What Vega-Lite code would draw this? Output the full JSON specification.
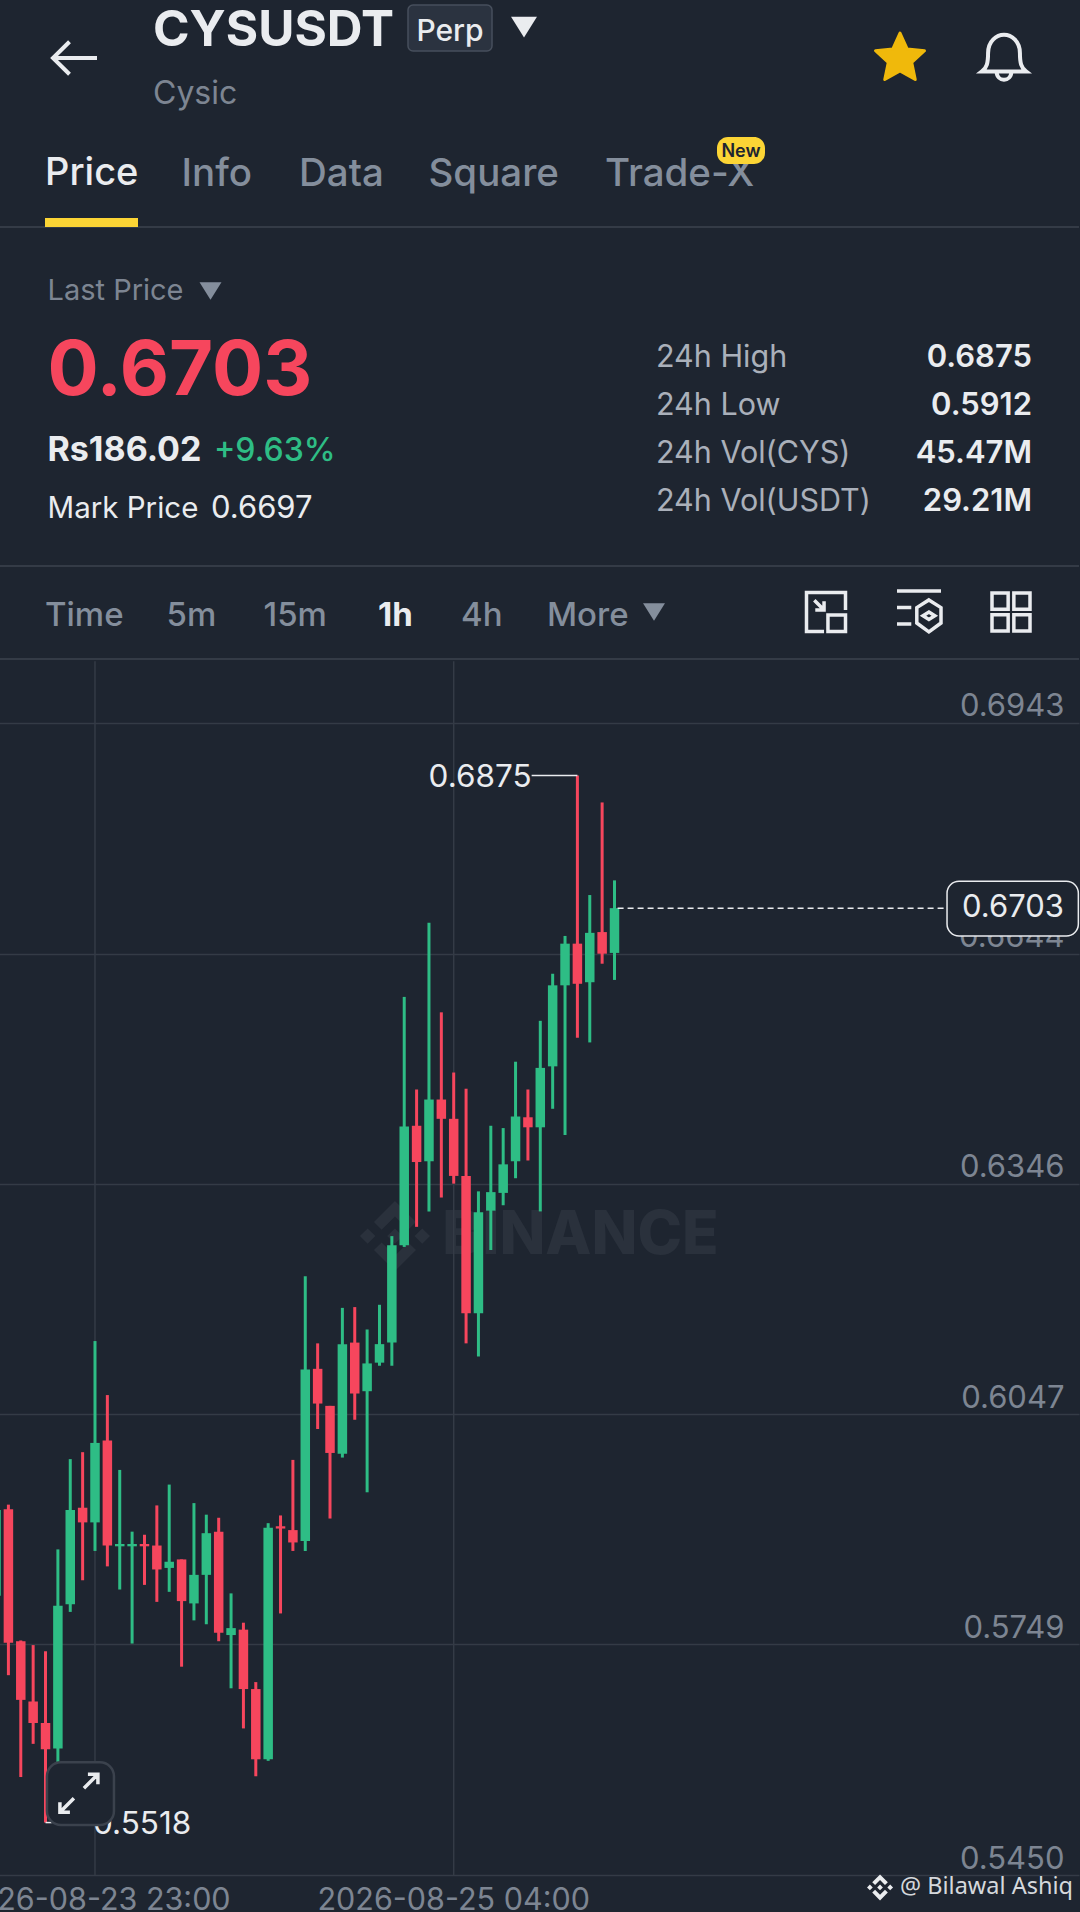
{
  "$schema": "https://vega.github.io/schema/vega-lite/v6.json",
  "description": "CYSUSDT perp 1h candles, mobile app screen",
  "background": "#1e2530",
  "padding": {"left": -2, "top": 0, "right": 0, "bottom": 0},
  "spacing": 0,
  "config": {"font": "Inter", "view": {"stroke": null}},
  "datasets": {
    "candles": [
      {"time":"2026-08-23T15:00:00Z","open":0.5812,"high":0.5930,"low":0.5800,"close":0.5923},
      {"time":"2026-08-23T16:00:00Z","open":0.5924,"high":0.5930,"low":0.5709,"close":0.5751},
      {"time":"2026-08-23T17:00:00Z","open":0.5753,"high":0.5754,"low":0.5577,"close":0.5677},
      {"time":"2026-08-23T18:00:00Z","open":0.5675,"high":0.5748,"low":0.5620,"close":0.5647},
      {"time":"2026-08-23T19:00:00Z","open":0.5647,"high":0.5740,"low":0.5518,"close":0.5613},
      {"time":"2026-08-23T20:00:00Z","open":0.5614,"high":0.5872,"low":0.5588,"close":0.5799},
      {"time":"2026-08-23T21:00:00Z","open":0.5801,"high":0.5989,"low":0.5791,"close":0.5923},
      {"time":"2026-08-23T22:00:00Z","open":0.5926,"high":0.5998,"low":0.5832,"close":0.5907},
      {"time":"2026-08-23T23:00:00Z","open":0.5907,"high":0.6142,"low":0.5870,"close":0.6010},
      {"time":"2026-08-24T00:00:00Z","open":0.6013,"high":0.6072,"low":0.5850,"close":0.5877},
      {"time":"2026-08-24T01:00:00Z","open":0.5876,"high":0.5975,"low":0.5820,"close":0.5879},
      {"time":"2026-08-24T02:00:00Z","open":0.5876,"high":0.5895,"low":0.5750,"close":0.5879},
      {"time":"2026-08-24T03:00:00Z","open":0.5879,"high":0.5891,"low":0.5826,"close":0.5876},
      {"time":"2026-08-24T04:00:00Z","open":0.5877,"high":0.5929,"low":0.5804,"close":0.5846},
      {"time":"2026-08-24T05:00:00Z","open":0.5848,"high":0.5956,"low":0.5817,"close":0.5856},
      {"time":"2026-08-24T06:00:00Z","open":0.5859,"high":0.5859,"low":0.5720,"close":0.5805},
      {"time":"2026-08-24T07:00:00Z","open":0.5802,"high":0.5932,"low":0.5780,"close":0.5839},
      {"time":"2026-08-24T08:00:00Z","open":0.5839,"high":0.5917,"low":0.5775,"close":0.5893},
      {"time":"2026-08-24T09:00:00Z","open":0.5895,"high":0.5913,"low":0.5753,"close":0.5764},
      {"time":"2026-08-24T10:00:00Z","open":0.5761,"high":0.5815,"low":0.5692,"close":0.5770},
      {"time":"2026-08-24T11:00:00Z","open":0.5768,"high":0.5777,"low":0.5640,"close":0.5691},
      {"time":"2026-08-24T12:00:00Z","open":0.5691,"high":0.5700,"low":0.5578,"close":0.5600},
      {"time":"2026-08-24T13:00:00Z","open":0.5600,"high":0.5906,"low":0.5598,"close":0.5900},
      {"time":"2026-08-24T14:00:00Z","open":0.5902,"high":0.5916,"low":0.5789,"close":0.5899},
      {"time":"2026-08-24T15:00:00Z","open":0.5897,"high":0.5988,"low":0.5870,"close":0.5881},
      {"time":"2026-08-24T16:00:00Z","open":0.5883,"high":0.6226,"low":0.5870,"close":0.6105},
      {"time":"2026-08-24T17:00:00Z","open":0.6106,"high":0.6139,"low":0.6028,"close":0.6061},
      {"time":"2026-08-24T18:00:00Z","open":0.6058,"high":0.6058,"low":0.5912,"close":0.5997},
      {"time":"2026-08-24T19:00:00Z","open":0.5996,"high":0.6185,"low":0.5991,"close":0.6138},
      {"time":"2026-08-24T20:00:00Z","open":0.6140,"high":0.6186,"low":0.6040,"close":0.6074},
      {"time":"2026-08-24T21:00:00Z","open":0.6077,"high":0.6157,"low":0.5946,"close":0.6113},
      {"time":"2026-08-24T22:00:00Z","open":0.6114,"high":0.6189,"low":0.6110,"close":0.6138},
      {"time":"2026-08-24T23:00:00Z","open":0.6140,"high":0.6278,"low":0.6110,"close":0.6266},
      {"time":"2026-08-25T00:00:00Z","open":0.6266,"high":0.6588,"low":0.6264,"close":0.6420},
      {"time":"2026-08-25T01:00:00Z","open":0.6421,"high":0.6468,"low":0.6290,"close":0.6374},
      {"time":"2026-08-25T02:00:00Z","open":0.6375,"high":0.6684,"low":0.6310,"close":0.6455},
      {"time":"2026-08-25T03:00:00Z","open":0.6455,"high":0.6568,"low":0.6328,"close":0.6430},
      {"time":"2026-08-25T04:00:00Z","open":0.6430,"high":0.6490,"low":0.6346,"close":0.6356},
      {"time":"2026-08-25T05:00:00Z","open":0.6356,"high":0.6469,"low":0.6139,"close":0.6178},
      {"time":"2026-08-25T06:00:00Z","open":0.6178,"high":0.6336,"low":0.6122,"close":0.6309},
      {"time":"2026-08-25T07:00:00Z","open":0.6311,"high":0.6421,"low":0.6260,"close":0.6335},
      {"time":"2026-08-25T08:00:00Z","open":0.6334,"high":0.6418,"low":0.6318,"close":0.6371},
      {"time":"2026-08-25T09:00:00Z","open":0.6375,"high":0.6504,"low":0.6353,"close":0.6433},
      {"time":"2026-08-25T10:00:00Z","open":0.6432,"high":0.6468,"low":0.6376,"close":0.6419},
      {"time":"2026-08-25T11:00:00Z","open":0.6419,"high":0.6557,"low":0.6310,"close":0.6496},
      {"time":"2026-08-25T12:00:00Z","open":0.6498,"high":0.6618,"low":0.6443,"close":0.6603},
      {"time":"2026-08-25T13:00:00Z","open":0.6603,"high":0.6667,"low":0.6409,"close":0.6657},
      {"time":"2026-08-25T14:00:00Z","open":0.6657,"high":0.6875,"low":0.6535,"close":0.6605},
      {"time":"2026-08-25T15:00:00Z","open":0.6607,"high":0.6720,"low":0.6529,"close":0.6671},
      {"time":"2026-08-25T16:00:00Z","open":0.6672,"high":0.6840,"low":0.6631,"close":0.6644},
      {"time":"2026-08-25T17:00:00Z","open":0.6645,"high":0.6739,"low":0.6610,"close":0.6703}
    ]
  },
  "vconcat": [
    {
      "width": 1080,
      "height": 660,
      "encoding": {
        "x": {"field": "col", "type": "quantitative", "axis": null, "scale": {"zero": false, "nice": false,
          "domain": [0,1,2,3,4,5,6,7,8,9,10,11,12,13,14,15,16,17,18,19,20,21,22,23,24,25,26,27,28,29,30,31,32,33],
          "range": [0,46,48.5,76,139,154,167.5,182.5,211.5,212,215,264.5,300,379,409,429.5,451,462,493,525,548,606,655,657,718,742,766,827,901,920,1005,1012,1033,1080]}},
        "y": {"field": "row", "type": "quantitative", "axis": null, "scale": {"zero": false, "nice": false,
          "domain": [0,1,2,3,4,5,6,7,8,9,10,11,12,13,14,15,16,17,18,19,20,21,22,23,24],
          "range": [0,5,31,32,51,58,94,137,152,164,174,218,227,291,358,372,406,451,454,502,509,566,612,616,659]}}
      },
      "layer": [
        {
          "data": {"values": [{"col":0,"col2":33,"row":12},{"col":0,"col2":33,"row":21},{"col":0,"col2":33,"row":24}]},
          "mark": {"type": "rule", "color": "#343b46", "strokeWidth": 2},
          "encoding": {"x2": {"field": "col2"}}
        },
        {
          "data": {"values": [{"col":1,"col2":4,"row":11,"row2":12}]},
          "mark": {"type": "rect", "color": "#fcd535"},
          "encoding": {"x2": {"field": "col2"}, "y2": {"field": "row2"}}
        },
        {
          "data": {"values": [{"col":14,"col2":18,"row":1,"row2":4}]},
          "mark": {"type": "rect", "fill": "#2b3340", "stroke": "#474f5c", "strokeWidth": 1.5, "cornerRadius": 5},
          "encoding": {"x2": {"field": "col2"}, "y2": {"field": "row2"}}
        },
        {
          "data": {"values": [{"label":"CYSUSDT","col":5,"row":2}]},
          "mark": {"type": "text", "align": "left", "baseline": "middle", "fontSize": 49.5, "fontWeight": 700, "color": "#eaecef"},
          "encoding": {"text": {"field": "label"}}
        },
        {
          "data": {"values": [{"label":"Perp","col":16,"row":3}]},
          "mark": {"type": "text", "align": "center", "baseline": "middle", "fontSize": 30, "fontWeight": 500, "color": "#eaecef"},
          "encoding": {"text": {"field": "label"}}
        },
        {
          "data": {"values": [{"label":"Cysic","col":5,"row":6}]},
          "mark": {"type": "text", "align": "left", "baseline": "middle", "fontSize": 32, "color": "#7d8592"},
          "encoding": {"text": {"field": "label"}}
        },
        {
          "data": {"values": [{"label":"Last Price","col":2,"row":13}]},
          "mark": {"type": "text", "align": "left", "baseline": "middle", "fontSize": 29, "color": "#7d8592"},
          "encoding": {"text": {"field": "label"}}
        },
        {
          "data": {"values": [{"label":"Price","col":1,"row":10}]},
          "mark": {"type": "text", "align": "left", "baseline": "middle", "fontSize": 38, "fontWeight": 500, "color": "#eaecef"},
          "encoding": {"text": {"field": "label"}}
        },
        {
          "data": {"values": [{"label":"Info","col":7,"row":10},{"label":"Data","col":12,"row":10},{"label":"Square","col":15,"row":10},{"label":"Trade-X","col":21,"row":10}]},
          "mark": {"type": "text", "align": "left", "baseline": "middle", "fontSize": 38.5, "fontWeight": 500, "color": "#848e9c"},
          "encoding": {"text": {"field": "label"}}
        },
        {
          "data": {"values": [{"col":24,"col2":26,"row":7,"row2":9}]},
          "mark": {"type": "rect", "color": "#fcd535", "cornerRadius": 11},
          "encoding": {"x2": {"field": "col2"}, "y2": {"field": "row2"}}
        },
        {
          "data": {"values": [{"label":"New","col":25,"row":8}]},
          "mark": {"type": "text", "align": "center", "baseline": "middle", "fontSize": 18, "fontWeight": 600, "color": "#1e2530"},
          "encoding": {"text": {"field": "label"}}
        },
        {
          "data": {"values": [{"label":"0.6703","col":2,"row":15}]},
          "mark": {"type": "text", "align": "left", "baseline": "middle", "fontSize": 76, "fontWeight": 700, "color": "#f6465d"},
          "encoding": {"text": {"field": "label"}}
        },
        {
          "data": {"values": [{"label":"Rs186.02","col":2,"row":17}]},
          "mark": {"type": "text", "align": "left", "baseline": "middle", "fontSize": 34, "fontWeight": 700, "color": "#eaecef"},
          "encoding": {"text": {"field": "label"}}
        },
        {
          "data": {"values": [{"label":"+9.63%","col":10,"row":17}]},
          "mark": {"type": "text", "align": "left", "baseline": "middle", "fontSize": 32, "fontWeight": 500, "color": "#2ebd85"},
          "encoding": {"text": {"field": "label"}}
        },
        {
          "data": {"values": [{"label":"Mark Price","col":2,"row":20}]},
          "mark": {"type": "text", "align": "left", "baseline": "middle", "fontSize": 29.5, "color": "#eaecef"},
          "encoding": {"text": {"field": "label"}}
        },
        {
          "data": {"values": [{"label":"0.6697","col":9,"row":20}]},
          "mark": {"type": "text", "align": "left", "baseline": "middle", "fontSize": 31, "color": "#eaecef"},
          "encoding": {"text": {"field": "label"}}
        },
        {
          "data": {"values": [{"label":"24h High","col":23,"row":14},{"label":"24h Low","col":23,"row":16},{"label":"24h Vol(CYS)","col":23,"row":18},{"label":"24h Vol(USDT)","col":23,"row":19}]},
          "mark": {"type": "text", "align": "left", "baseline": "middle", "fontSize": 30.5, "color": "#aab0ba"},
          "encoding": {"text": {"field": "label"}}
        },
        {
          "data": {"values": [{"label":"0.6875","col":32,"row":14},{"label":"0.5912","col":32,"row":16},{"label":"45.47M","col":32,"row":18},{"label":"29.21M","col":32,"row":19}]},
          "mark": {"type": "text", "align": "right", "baseline": "middle", "fontSize": 31, "fontWeight": 600, "color": "#eaecef"},
          "encoding": {"text": {"field": "label"}}
        },
        {
          "data": {"values": [{"label":"Time","col":1,"row":23},{"label":"5m","col":6,"row":23},{"label":"15m","col":11,"row":23},{"label":"4h","col":17,"row":23},{"label":"More","col":20,"row":23}]},
          "mark": {"type": "text", "align": "left", "baseline": "middle", "fontSize": 33, "fontWeight": 500, "color": "#848e9c"},
          "encoding": {"text": {"field": "label"}}
        },
        {
          "data": {"values": [{"label":"1h","col":13,"row":23}]},
          "mark": {"type": "text", "align": "left", "baseline": "middle", "fontSize": 33, "fontWeight": 700, "color": "#eaecef"},
          "encoding": {"text": {"field": "label"}}
        },
        {
          "data": {"values": [{"col":19,"row":2}]},
          "mark": {"type": "point", "shape": "M-1,-1.1 L1,-1.1 L0,0.5 Z", "size": 676, "filled": true, "color": "#eaecef", "opacity": 1}
        },
        {
          "data": {"values": [{"col":8,"row":13},{"col":22,"row":22}]},
          "mark": {"type": "point", "shape": "M-1,-0.8 L1,-0.8 L0,0.8 Z", "size": 484, "filled": true, "color": "#848e9c", "opacity": 1}
        },
        {
          "data": {"values": [{"col":3,"row":5}]},
          "mark": {"type": "point", "shape": "M-1,0 L1,0 M-0.25,-0.74 L-1,0 L-0.25,0.74", "size": 1936, "filled": false, "stroke": "#eaecef", "strokeWidth": 4, "opacity": 1}
        },
        {
          "data": {"values": [{"col":28,"row":5}]},
          "mark": {"type": "point", "shape": "M0,-1 L0.29,-0.36 L0.98,-0.29 L0.47,0.18 L0.61,0.86 L0,0.52 L-0.61,0.86 L-0.47,0.18 L-0.98,-0.29 L-0.29,-0.36 Z", "size": 2500, "filled": true, "color": "#f0b90b", "stroke": "#f0b90b", "strokeWidth": 3, "strokeJoin": "round", "opacity": 1}
        },
        {
          "data": {"values": [{"col":30,"row":5}]},
          "mark": {"type": "point", "shape": "M-0.9,0.55 C-0.7,0.4 -0.65,0.2 -0.65,-0.2 C-0.65,-0.7 -0.3,-0.95 0,-0.95 C0.3,-0.95 0.65,-0.7 0.65,-0.2 C0.65,0.2 0.7,0.4 0.9,0.55 Z M-0.3,0.55 C-0.3,1 0.3,1 0.3,0.55", "size": 2400, "filled": false, "stroke": "#eaecef", "strokeWidth": 4, "opacity": 1}
        },
        {
          "data": {"values": [{"col":27,"row":22}]},
          "mark": {"type": "point", "shape": "M1,-0.1 L1,-1 L-1,-1 L-1,1 L-0.1,1 M0.1,0.15 L1,0.15 L1,1 L0.1,1 Z M-0.6,-0.6 L-0.1,-0.1 M-0.1,-0.55 L-0.1,-0.1 L-0.55,-0.1", "size": 1521, "filled": false, "stroke": "#eaecef", "strokeWidth": 3.5, "opacity": 1}
        },
        {
          "data": {"values": [{"col":29,"row":22}]},
          "mark": {"type": "point", "shape": "M-1,-0.95 L1,-0.95 M-1,-0.2 L-0.35,-0.2 M-1,0.55 L-0.35,0.55 M0.45,-0.55 L1,-0.2 L1,0.5 L0.45,0.9 L-0.1,0.5 L-0.1,-0.2 Z M0.45,0 L0.72,0.17 L0.45,0.34 L0.18,0.17 Z", "size": 1936, "filled": false, "stroke": "#eaecef", "strokeWidth": 3.5, "opacity": 1}
        },
        {
          "data": {"values": [{"col":31,"row":22}]},
          "mark": {"type": "point", "shape": "M-1,-1 L-0.15,-1 L-0.15,-0.15 L-1,-0.15 Z M0.15,-1 L1,-1 L1,-0.15 L0.15,-0.15 Z M-1,0.15 L-0.15,0.15 L-0.15,1 L-1,1 Z M0.15,0.15 L1,0.15 L1,1 L0.15,1 Z", "size": 1444, "filled": false, "stroke": "#eaecef", "strokeWidth": 3.5, "opacity": 1}
        }
      ]
    },
    {
      "width": 1080,
      "height": 1252,
      "encoding": {
        "x": {"field": "time", "type": "temporal", "axis": null, "scale": {"type": "utc", "nice": false, "domainRaw": {"expr": "[utc(2026,7,23,15,14,21), utc(2026,7,27,6,33,9)]"}}},
        "y": {"field": "price", "type": "quantitative", "scale": {"zero": false, "nice": false, "domain": [0.54008, 0.70233]},
          "axis": {"orient": "right", "title": null, "values": [0.5450, 0.5749, 0.6047, 0.6346, 0.6644, 0.6943], "format": ".4f",
            "domain": false, "ticks": false, "tickSize": 0, "grid": true, "gridColor": "#343b46", "gridWidth": 1.5,
            "labelColor": "#7d8592", "labelFontSize": 31, "labelAlign": "right", "labelBaseline": "bottom", "labelOffset": 0, "labelPadding": -15, "labelFlush": false, "labelOverlap": false, "labelBound": false}}
      },
      "layer": [
        {
          "data": {"values": [{"label":"BINANCE","time":"2026-08-25T03:05:00Z","price":0.6278}]},
          "mark": {"type": "text", "align": "left", "baseline": "middle", "fontSize": 60, "fontWeight": 800, "color": "#2a313c"},
          "encoding": {"text": {"field": "label"}}
        },
        {
          "data": {"values": [{"time":"2026-08-24T23:15:00Z","price":0.6278}]},
          "mark": {"type": "point", "shape": "M0,-1 L0.6,-0.4 L0.38,-0.18 L0,-0.56 L-0.38,-0.18 L-0.6,-0.4 Z M0,1 L0.6,0.4 L0.38,0.18 L0,0.56 L-0.38,0.18 L-0.6,0.4 Z M0,-0.22 L0.22,0 L0,0.22 L-0.22,0 Z M-0.78,-0.22 L-0.56,0 L-0.78,0.22 L-1,0 Z M0.78,-0.22 L1,0 L0.78,0.22 L0.56,0 Z", "size": 4900, "filled": true, "color": "#2a313c", "opacity": 1}
        },
        {
          "data": {"values": [{"time":"2026-08-23T23:00:00Z","price":0.7023,"price2":0.5450},{"time":"2026-08-25T04:00:00Z","price":0.7023,"price2":0.5450}]},
          "mark": {"type": "rule", "color": "#343b46", "strokeWidth": 1.5},
          "encoding": {"y2": {"field": "price2"}}
        },
        {
          "data": {"values": [{"label":"2026-08-23 23:00","time":"2026-08-23T23:00:00Z","price":0.5416},{"label":"2026-08-25 04:00","time":"2026-08-25T04:00:00Z","price":0.5416}]},
          "mark": {"type": "text", "align": "center", "baseline": "middle", "fontSize": 30.5, "color": "#7d8592", "clip": true},
          "encoding": {"text": {"field": "label"}}
        },
        {
          "data": {"name": "candles"},
          "mark": {"type": "rule", "strokeWidth": 3, "clip": true},
          "encoding": {
            "y": {"field": "low", "type": "quantitative", "scale": {"zero": false, "nice": false, "domain": [0.54008, 0.70233]},
              "axis": {"orient": "right", "title": null, "values": [0.5450, 0.5749, 0.6047, 0.6346, 0.6644, 0.6943], "format": ".4f",
                "domain": false, "ticks": false, "tickSize": 0, "grid": true, "gridColor": "#343b46", "gridWidth": 1.5,
                "labelColor": "#7d8592", "labelFontSize": 31, "labelAlign": "right", "labelBaseline": "bottom", "labelOffset": 0, "labelPadding": -15, "labelFlush": false, "labelOverlap": false, "labelBound": false}},
            "y2": {"field": "high"},
            "color": {"condition": {"test": "datum.close >= datum.open", "value": "#2ebd85"}, "value": "#f6465d"}
          }
        },
        {
          "data": {"name": "candles"},
          "mark": {"type": "bar", "size": 9.5, "clip": true},
          "encoding": {
            "y": {"field": "open", "type": "quantitative", "scale": {"zero": false, "nice": false, "domain": [0.54008, 0.70233]},
              "axis": {"orient": "right", "title": null, "values": [0.5450, 0.5749, 0.6047, 0.6346, 0.6644, 0.6943], "format": ".4f",
                "domain": false, "ticks": false, "tickSize": 0, "grid": true, "gridColor": "#343b46", "gridWidth": 1.5,
                "labelColor": "#7d8592", "labelFontSize": 31, "labelAlign": "right", "labelBaseline": "bottom", "labelOffset": 0, "labelPadding": -15, "labelFlush": false, "labelOverlap": false, "labelBound": false}},
            "y2": {"field": "close"},
            "color": {"condition": {"test": "datum.close >= datum.open", "value": "#2ebd85"}, "value": "#f6465d"}
          }
        },
        {
          "data": {"values": [{"time":"2026-08-25T17:15:00Z","time2":"2026-08-26T19:48:00Z","price":0.6703}]},
          "mark": {"type": "rule", "color": "#eaecef", "strokeWidth": 1.5, "strokeDash": [6, 4]},
          "encoding": {"x2": {"field": "time2"}}
        },
        {
          "data": {"values": [{"time":"2026-08-26T19:53:00Z","time2":"2026-08-27T06:30:00Z","price":0.6738,"price2":0.6667}]},
          "mark": {"type": "rect", "fill": "#1e2530", "stroke": "#eaecef", "strokeWidth": 1.5, "cornerRadius": 12},
          "encoding": {"x2": {"field": "time2"}, "y2": {"field": "price2"}}
        },
        {
          "data": {"values": [{"label":"0.6703","time":"2026-08-27T01:13:00Z","price":0.6703}]},
          "mark": {"type": "text", "align": "center", "baseline": "middle", "fontSize": 31, "color": "#eaecef"},
          "encoding": {"text": {"field": "label"}}
        },
        {
          "data": {"values": [{"time":"2026-08-25T10:18:00Z","time2":"2026-08-25T14:00:00Z","price":0.6875},{"time":"2026-08-23T19:00:00Z","time2":"2026-08-23T19:30:00Z","price":0.5518}]},
          "mark": {"type": "rule", "color": "#eaecef", "strokeWidth": 1.5},
          "encoding": {"x2": {"field": "time2"}}
        },
        {
          "data": {"values": [{"label":"0.6875","time":"2026-08-25T10:18:00Z","price":0.6874}]},
          "mark": {"type": "text", "align": "right", "baseline": "middle", "fontSize": 31.5, "dy": 2, "color": "#eaecef"},
          "encoding": {"text": {"field": "label"}}
        },
        {
          "data": {"values": [{"label":"0.5518","time":"2026-08-23T22:50:00Z","price":0.5518}]},
          "mark": {"type": "text", "align": "left", "baseline": "middle", "fontSize": 31.5, "dy": 2, "color": "#eaecef"},
          "encoding": {"text": {"field": "label"}}
        },
        {
          "data": {"values": [{"time":"2026-08-23T19:07:00Z","time2":"2026-08-24T00:32:00Z","price":0.5596,"price2":0.5515}]},
          "mark": {"type": "rect", "fill": "#1e2530", "stroke": "#3b424d", "strokeWidth": 2.5, "cornerRadius": 14},
          "encoding": {"x2": {"field": "time2"}, "y2": {"field": "price2"}}
        },
        {
          "data": {"values": [{"time":"2026-08-23T21:42:00Z","price":0.5556}]},
          "mark": {"type": "point", "shape": "M-0.95,0.95 L-0.25,0.25 M-0.95,0.45 L-0.95,0.95 L-0.45,0.95 M0.95,-0.95 L0.25,-0.25 M0.45,-0.95 L0.95,-0.95 L0.95,-0.45", "size": 1600, "filled": false, "stroke": "#eaecef", "strokeWidth": 3.5, "opacity": 1}
        },
        {
          "data": {"values": [{"time":"2026-08-26T14:28:00Z","price":0.5434}]},
          "mark": {"type": "point", "shape": "M0,-1 L0.6,-0.4 L0.38,-0.18 L0,-0.56 L-0.38,-0.18 L-0.6,-0.4 Z M0,1 L0.6,0.4 L0.38,0.18 L0,0.56 L-0.38,0.18 L-0.6,0.4 Z M0,-0.22 L0.22,0 L0,0.22 L-0.22,0 Z M-0.78,-0.22 L-0.56,0 L-0.78,0.22 L-1,0 Z M0.78,-0.22 L1,0 L0.78,0.22 L0.56,0 Z", "size": 676, "filled": true, "color": "#eaecef", "opacity": 1}
        },
        {
          "data": {"values": [{"label":"@ Bilawal Ashiq","time":"2026-08-26T16:05:00Z","price":0.5434}]},
          "mark": {"type": "text", "align": "left", "baseline": "middle", "font": "Noto Sans", "fontSize": 23.5, "color": "#d5d8dc"},
          "encoding": {"text": {"field": "label"}}
        }
      ]
    }
  ]
}
